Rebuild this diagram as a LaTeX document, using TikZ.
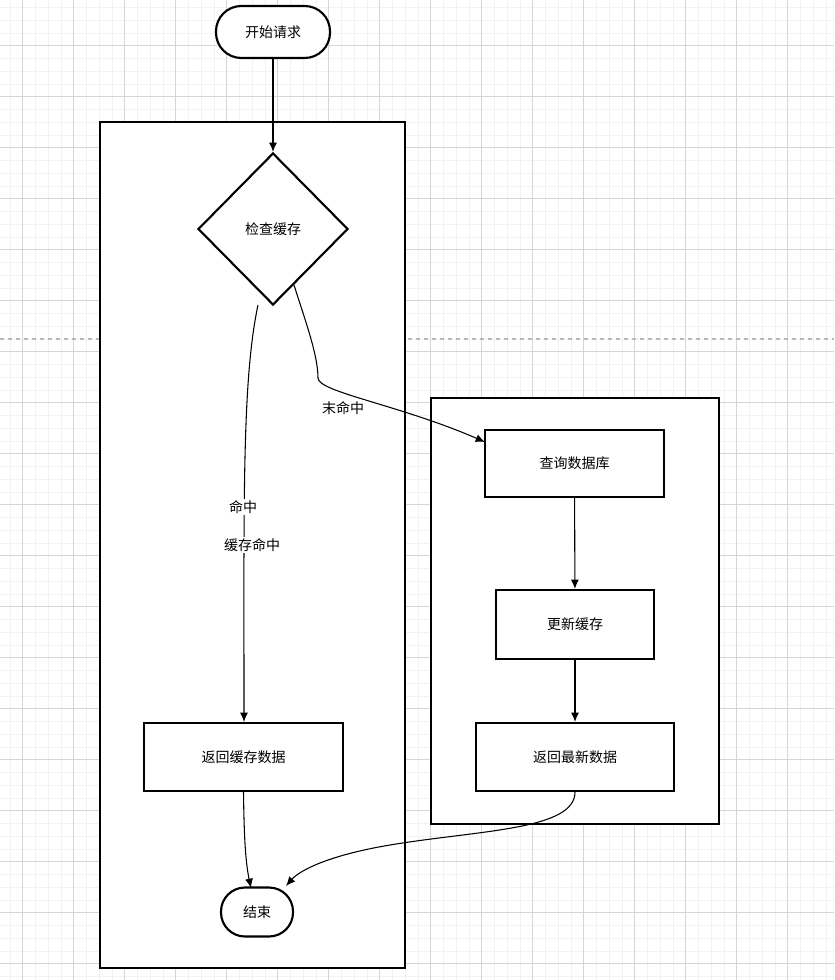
\documentclass[tikz,border=0pt]{standalone}
\usepackage{fontspec}
\setmainfont{Noto Sans CJK SC}
\usetikzlibrary{shapes.geometric,arrows.meta}
\begin{document}
\begin{tikzpicture}[x=0.75pt,y=-0.75pt,
  cont/.style={draw,line width=1.6pt},
  conn/.style={-{Latex[length=7pt,width=6pt]},line width=0.8pt},
  lbl/.style={fill=white,inner sep=1pt,font=\fontsize{10.5pt}{12pt}\selectfont},
  every node/.style={font=\fontsize{10.5pt}{12pt}\selectfont}]
\useasboundingbox (0,0) rectangle (834,980);
\fill[white] (0,0) rectangle (834,980);
\foreach \i in {0,...,66} {\draw[black!5,line width=0.6pt] (\i*12.75+9.95,0) -- (\i*12.75+9.95,980);}
\foreach \i in {0,...,78} {\draw[black!5,line width=0.6pt] (0,\i*12.75+7.45) -- (834,\i*12.75+7.45);}
\foreach \i in {0,...,16} {\draw[black!16,line width=0.6pt] (\i*51+22.7,0) -- (\i*51+22.7,980);}
\foreach \i in {0,...,19} {\draw[black!16,line width=0.6pt] (0,\i*51+45.7) -- (834,\i*51+45.7);}
\draw[black!28,dashed,line width=0.8pt] (0,339) -- (834,339);
\draw[cont,fill=white] (100,122) rectangle (405,968);
\draw[cont,fill=white] (431,398) rectangle (719,824);
\node[draw,line width=1.6pt,rounded corners=19pt,fill=white,minimum width=114*0.75pt,minimum height=52*0.75pt] (start) at (273,32) {开始请求};
\node[draw,line width=1.6pt,diamond,fill=white,minimum width=150*0.75pt,minimum height=152*0.75pt,inner sep=0pt] (chk) at (273,229) {检查缓存};
\node[draw,line width=1.6pt,fill=white,minimum width=179*0.75pt,minimum height=67*0.75pt] (db) at (574.5,463.5) {查询数据库};
\node[draw,line width=1.6pt,fill=white,minimum width=158*0.75pt,minimum height=69*0.75pt] (upd) at (575,624.5) {更新缓存};
\node[draw,line width=1.6pt,fill=white,minimum width=198*0.75pt,minimum height=68*0.75pt] (rn) at (575,757) {返回最新数据};
\node[draw,line width=1.6pt,fill=white,minimum width=199*0.75pt,minimum height=68*0.75pt] (rc) at (243.5,757) {返回缓存数据};
\node[draw,line width=1.6pt,rounded corners=18pt,fill=white,minimum width=72*0.75pt,minimum height=49*0.75pt] (end) at (257,912) {结束};
\coordinate (c1) at (258,305);
\coordinate (c2) at (294,285);
\draw[conn] (start) -- (chk.north);
\draw[conn] (c1) .. controls (242,380) and (244,500) .. (244,722);
\node[lbl] at (243,507) {命中};
\node[lbl] at (252,545) {缓存命中};
\draw[conn] (c2) .. controls (305,320) and (318,355) .. (318,378) .. controls (318,392) and (400,405) .. (485,442);
\node[lbl] at (343,408) {末命中};
\draw[conn] (db) -- (upd);
\draw[conn] (upd) -- (rn);
\draw[conn] (rc.south) .. controls (244,830) and (245,860) .. (251,888);
\draw[conn] (rn.south) .. controls (575,830) and (480,830) .. (390,845) .. controls (330,855) and (300,870) .. (286,886);
\end{tikzpicture}
\end{document}
